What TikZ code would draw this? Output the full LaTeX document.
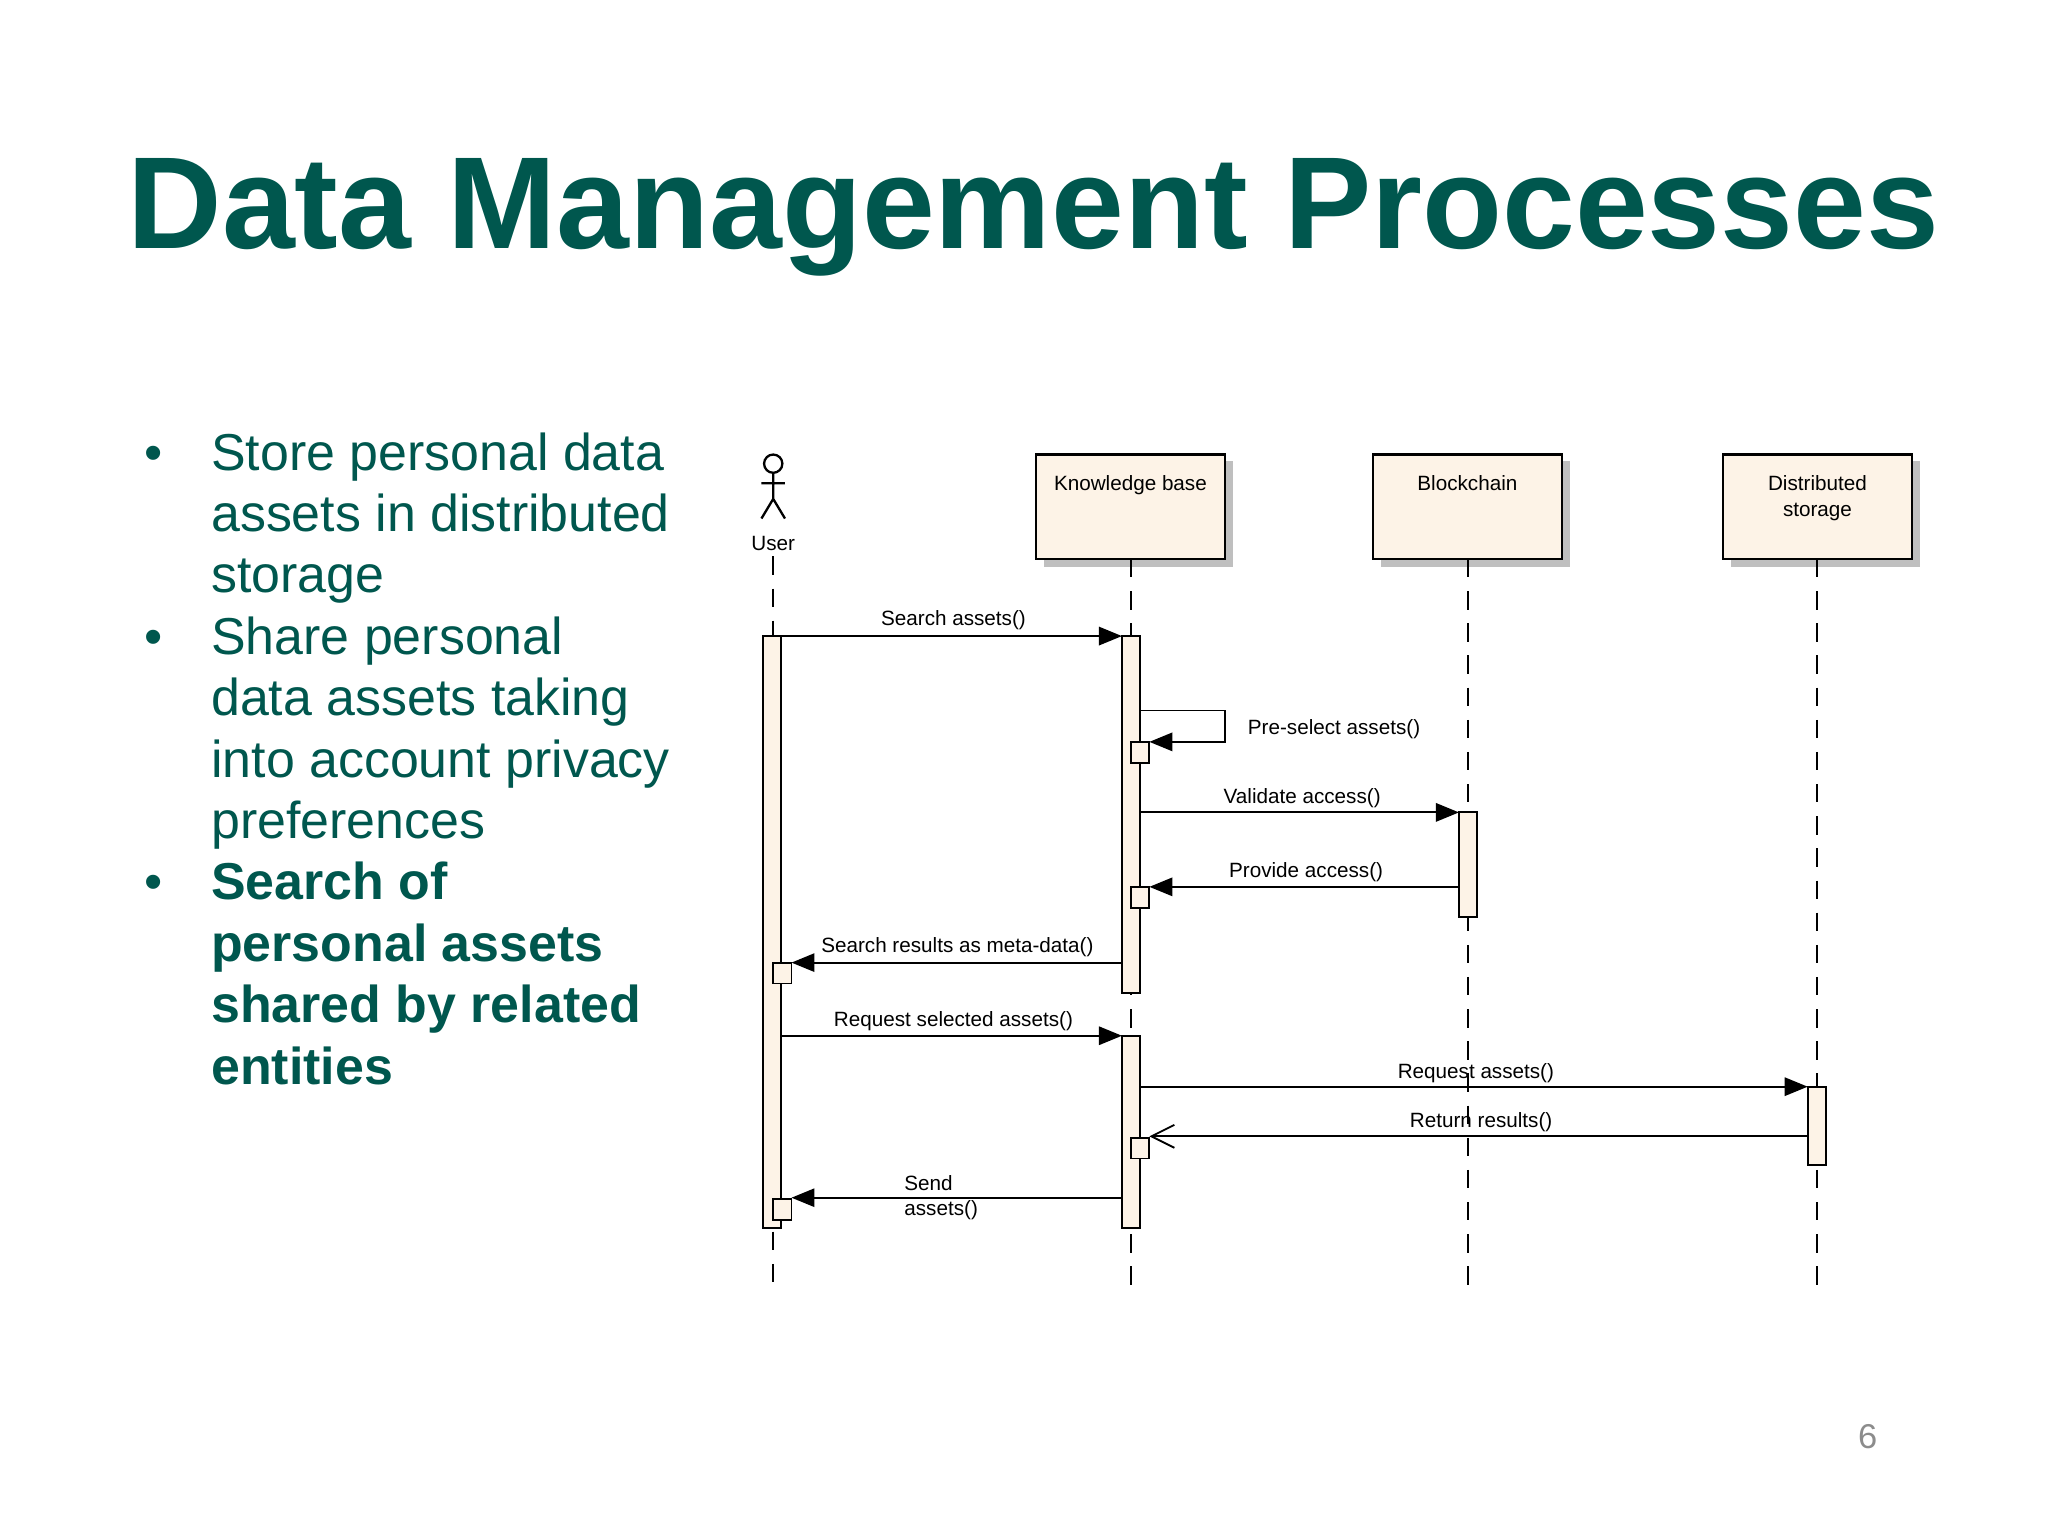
\documentclass[tikz,border=0pt]{standalone}
\usepackage{fontspec}
\setmainfont{Liberation Sans}
\usetikzlibrary{arrows.meta}
\definecolor{teal1}{HTML}{00574E}
\definecolor{fillc}{HTML}{FDF3E7}
\begin{document}
\begin{tikzpicture}[x=0.01cm,y=-0.01cm,
  lbl/.style={font=\fontsize{4.5}{5.5}\selectfont},
  bl/.style={anchor=base west,text=teal1,font=\fontsize{11.3}{13}\selectfont,inner sep=0},
  blb/.style={bl,font=\fontsize{11.3}{13}\selectfont\bfseries},
  obj/.style={draw,fill=fillc,line width=0.5pt},
  act/.style={draw,fill=fillc,line width=0.4pt},
  life/.style={dashed,line width=0.4pt,dash pattern=on 4pt off 3pt},
  msg/.style={line width=0.4pt,-{Triangle[length=5pt,width=4pt]}},
  omsg/.style={line width=0.4pt,-{Straight Barb[length=5pt,width=5pt]}}]
\useasboundingbox (0,0) rectangle (1568,1176);
\node[anchor=base west,inner sep=0,text=teal1,font=\fontsize{28.5}{30}\selectfont\bfseries] (title) at (97,190) {Data Management Processes};
% bullets
\foreach \y in {348,489,677} \node[bl] at (110,\y+12) {•};
\node[bl] (b1) at (161,360) {Store personal data};
\node[bl] at (161,407) {assets in distributed};
\node[bl] at (161,454) {storage};
\node[bl] at (161,501) {Share personal};
\node[bl] at (161,548) {data assets taking};
\node[bl] at (161,595) {into account privacy};
\node[bl] at (161,642) {preferences};
\node[blb] at (161,689) {Search of};
\node[blb] at (161,736) {personal assets};
\node[blb] at (161,783) {shared by related};
\node[blb] at (161,830) {entities};
% objects
\foreach \x/\n/\t in {793/kb/{Knowledge base},1051/bc/{Blockchain},1319/ds/{Distributed\\storage}}{
  \fill[black!25] (\x+6,353) rectangle (\x+151,434);
  \draw[obj] (\x,348) rectangle (\x+145,428);
  \node[lbl,align=center,anchor=north] (\n) at (\x+72.5,352) {\t};
}
% actor
\draw[line width=0.5pt] (592,355) circle (7);
\draw[line width=0.5pt] (592,362)--(592,382) (583,370)--(601,370) (583,397)--(592,382)--(601,397);
\node[lbl] (user) at (592,416) {User};
% lifelines
\foreach \x in {866,1124,1391} \draw[life] (\x,428)--(\x,990);
\draw[life] (592,426)--(592,990);
% activations
\draw[act] (584,487) rectangle (598,940);
\draw[act] (859,487) rectangle (873,760);
\draw[act] (859,793) rectangle (873,940);
\draw[act] (1117,622) rectangle (1131,702);
\draw[act] (1384,832) rectangle (1398,892);
\draw[act] (866,568) rectangle (880,584);
\draw[act] (866,679) rectangle (880,695);
\draw[act] (592,737) rectangle (606,753);
\draw[act] (592,918) rectangle (606,934);
\draw[act] (866,871) rectangle (880,887);
% messages
\draw[msg] (598,487)--(859,487); \node[lbl] at (730,475) {Search assets()};
\draw[msg] (873,544)--(938,544)--(938,568)--(880,568); \node[lbl,anchor=west] at (943,558) {Pre-select assets()};
\draw[msg] (873,622)--(1117,622); \node[lbl] at (997,611) {Validate access()};
\draw[msg] (1117,679)--(880,679); \node[lbl] at (1000,668) {Provide access()};
\draw[msg] (859,737)--(606,737); \node[lbl] at (733,725) {Search results as meta-data()};
\draw[msg] (598,793)--(859,793); \node[lbl] at (730,782) {Request selected assets()};
\draw[msg] (873,832)--(1384,832); \node[lbl] at (1130,822) {Request assets()};
\draw[omsg] (1384,870)--(880,870); \node[lbl] at (1134,859) {Return results()};
\draw[msg] (859,917)--(606,917); \node[lbl,align=left,anchor=west] at (680,917) {Send\\assets()};
\node[text=black!45,font=\fontsize{7.5}{9}\selectfont] at (1430,1100) {6};
\end{tikzpicture}
\end{document}
